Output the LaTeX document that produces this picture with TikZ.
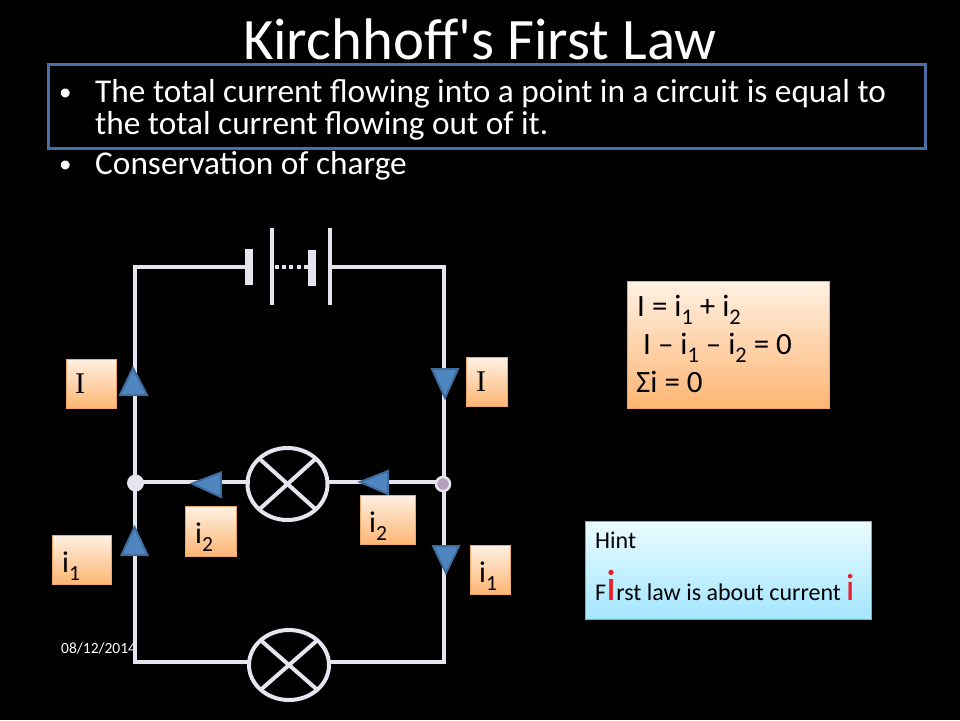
\documentclass[tikz,border=0pt]{standalone}
\usepackage{fontspec}
\setmainfont{Carlito}
\newfontfamily\titlefont{Carlito}
\newfontfamily\serifI{Liberation Serif}
\usetikzlibrary{shapes.geometric}
\definecolor{wirec}{HTML}{E6E4EE}
\definecolor{arrowf}{HTML}{4F86C0}
\definecolor{arrowd}{HTML}{3F6C9C}
\definecolor{framec}{HTML}{4A6FA5}
\definecolor{orT}{HTML}{FFF1E3}
\definecolor{orB}{HTML}{FDB573}
\definecolor{orD}{HTML}{F0A868}
\definecolor{blT}{HTML}{EAFBFF}
\definecolor{blB}{HTML}{A3E6FF}
\definecolor{blD}{HTML}{6FB4CC}
\definecolor{hintred}{HTML}{E8202A}
\newcommand{\fsz}[1]{\fontsize{#1}{#1}\selectfont}
\newcommand{\sbx}[1]{\raisebox{-0.28em}{\fontsize{0.72em}{0.72em}\selectfont #1}}
\tikzset{
  wire/.style={draw=wirec,line width=4pt,line cap=rect},
  thinplate/.style={draw=wirec,line width=4pt},
  thickplate/.style={fill=wirec,draw=none,inner sep=0pt,minimum width=8pt,minimum height=36pt},
  lamp/.style={ellipse,draw=wirec,line width=4pt,inner sep=0pt,outer sep=0pt,minimum width=#1},
  jleft/.style={circle,fill=wirec,inner sep=0pt,minimum size=17pt},
  jright/.style={circle,fill=wirec!75!violet!70!gray,draw=wirec,line width=2.5pt,inner sep=0pt,minimum size=14pt},
  tip/.style={fill=arrowf,draw=arrowd,line width=2pt,line join=miter},
  orbox/.style={rectangle,top color=orT,bottom color=orB,draw=orD,line width=0.8pt,inner sep=0pt,outer sep=0pt,anchor=north west,text=black},
  blbox/.style={rectangle,top color=blT,bottom color=blB,draw=blD,line width=0.8pt,inner sep=0pt,outer sep=0pt,anchor=north west},
  bodytext/.style={anchor=base west,inner sep=0pt,text=white,font=\fsz{33.3}},
  bulletmark/.style={anchor=base west,inner sep=0pt,text=white,font=\fsz{25}},
  bartext/.style={anchor=base west,inner sep=0pt,text=black},
  lbl/.style={inner sep=0pt,text=black}
}
\begin{document}
\begin{tikzpicture}[x=1pt,y=-1pt]
\fill[black] (0,0) rectangle (960,720);
\useasboundingbox (0,0) rectangle (960,720);
% title and bullets
\node[anchor=base,inner sep=0pt,text=white,font=\titlefont\fsz{58.7}] (title) at (480,59) {Kirchhoff's First Law};
\node[draw=framec,line width=3pt,anchor=north west,minimum width=877pt,minimum height=84pt,inner sep=0pt,outer sep=0pt] (frame) at (48.5,64) {};
\node[bulletmark] (b1) at (59,100) {•};
\node[bodytext] (t1) at (95,102) {The total current flowing into a point in a circuit is equal to};
\node[bodytext] (t2) at (95,134) {the total current flowing out of it.};
\node[bulletmark] (b2) at (59,172) {•};
\node[bodytext] (t3) at (95,174) {Conservation of charge};
% date, under the wire
\node[anchor=base west,inner sep=0pt,text=white,font=\fsz{15.5}] (date) at (61,653) {08/12/2014};
% corners, lamps
\coordinate (tl) at (135,267);
\coordinate (tr) at (444,267);
\coordinate (bl) at (135,662);
\coordinate (br) at (444,662);
\coordinate (wa) at (135,482);
\coordinate (wb) at (444,482);
\node[lamp=80pt,minimum height=72pt] (lampA) at (287.5,484) {};
\node[lamp=80pt,minimum height=70pt] (lampB) at (289,665) {};
% battery
\node[thickplate] (p1) at (249,267) {};
\node[thickplate] (p2) at (312,268) {};
\coordinate (c1t) at (272,228);
\coordinate (c1b) at (272,305);
\coordinate (c2t) at (330,228);
\coordinate (c2b) at (330,305);
\coordinate (c1m) at (275,267);
\coordinate (c2m) at (330,267);
% wires
\draw[wire] (tl) -- (p1.west);
\draw[wire] (c2m) -- (tr);
\draw[wire] (tl) -- (bl);
\draw[wire] (tr) -- (br);
\draw[wire] (bl) -- (bl -| lampB.west);
\draw[wire] (bl -| lampB.east) -- (br);
\draw[wire] (wa) -- (wa -| lampA.west);
\draw[wire] (wb -| lampA.east) -- (wb);
\draw[thinplate] (c1t) -- (c1b);
\draw[thinplate] (c2t) -- (c2b);
\draw[draw=wirec,line width=4pt,dash pattern=on 4pt off 3.2pt] (c1m) -- (c1m -| p2.west);
% lamp crosses
\draw[wire,line cap=butt] (lampA.north west) -- (lampA.south east);
\draw[wire,line cap=butt] (lampA.north east) -- (lampA.south west);
\draw[wire,line cap=butt] (lampB.north west) -- (lampB.south east);
\draw[wire,line cap=butt] (lampB.north east) -- (lampB.south west);
% junction dots over the wires
\node[jleft] (jl) at (135.5,483) {};
\node[jright] (jr) at (443,484) {};
% arrow tips
\draw[tip] (133,368) -- (147,395) -- (120,395) -- cycle;
\draw[tip] (134.5,527) -- (147.5,555) -- (121.5,555) -- cycle;
\draw[tip] (192,483.5) -- (221,472.5) -- (221,497) -- cycle;
\draw[tip] (360,482) -- (388,471) -- (388,494) -- cycle;
\draw[tip] (445,398) -- (458,369) -- (432,369) -- cycle;
\draw[tip] (446,573) -- (459,546) -- (433,546) -- cycle;
% labels
\node[orbox,minimum width=50pt,minimum height=49pt] (bI1) at (66,359) {};
\node[lbl,font=\serifI\fsz{30}] (lI1) at (80,384) {I};
\node[orbox,minimum width=41pt,minimum height=49pt] (bI2) at (466,357) {};
\node[lbl,font=\serifI\fsz{30}] (lI2) at (481,382) {I};
\node[orbox,minimum width=59pt,minimum height=49pt] (bi1) at (52,535) {};
\node[bartext,font=\fsz{30}] (li1) at (62,572) {i\sbx{1}};
\node[orbox,minimum width=51pt,minimum height=50pt] (bi2) at (185,506) {};
\node[bartext,font=\fsz{30}] (li2) at (195,543) {i\sbx{2}};
\node[orbox,minimum width=55pt,minimum height=49pt] (bi3) at (360,495) {};
\node[bartext,font=\fsz{30}] (li3) at (369,532) {i\sbx{2}};
\node[orbox,minimum width=40pt,minimum height=49pt] (bi4) at (470,545) {};
\node[bartext,font=\fsz{30}] (li4) at (479,582) {i\sbx{1}};
% equation box
\node[orbox,minimum width=202pt,minimum height=127pt] (eq) at (627,281) {};
\node[bartext,font=\fsz{31}] (e1) at (637,316) {I = i\sbx{1} + i\sbx{2}};
\node[bartext,font=\fsz{31}] (e2) at (643,354) {I – i\sbx{1} – i\sbx{2} = 0};
\node[bartext,font=\fsz{31}] (e3) at (636,392) {Σi = 0};
% hint box
\node[blbox,minimum width=286pt,minimum height=98pt] (hint) at (585,521) {};
\node[bartext,font=\fsz{24}] (h1) at (595,548) {Hint};
\node[bartext,font=\fsz{24}] (h2) at (595,600) {F{\color{hintred}\fsz{44}i}rst law is about current\hspace{5pt}{\color{hintred}\fsz{38}i}};
\end{tikzpicture}
\end{document}
